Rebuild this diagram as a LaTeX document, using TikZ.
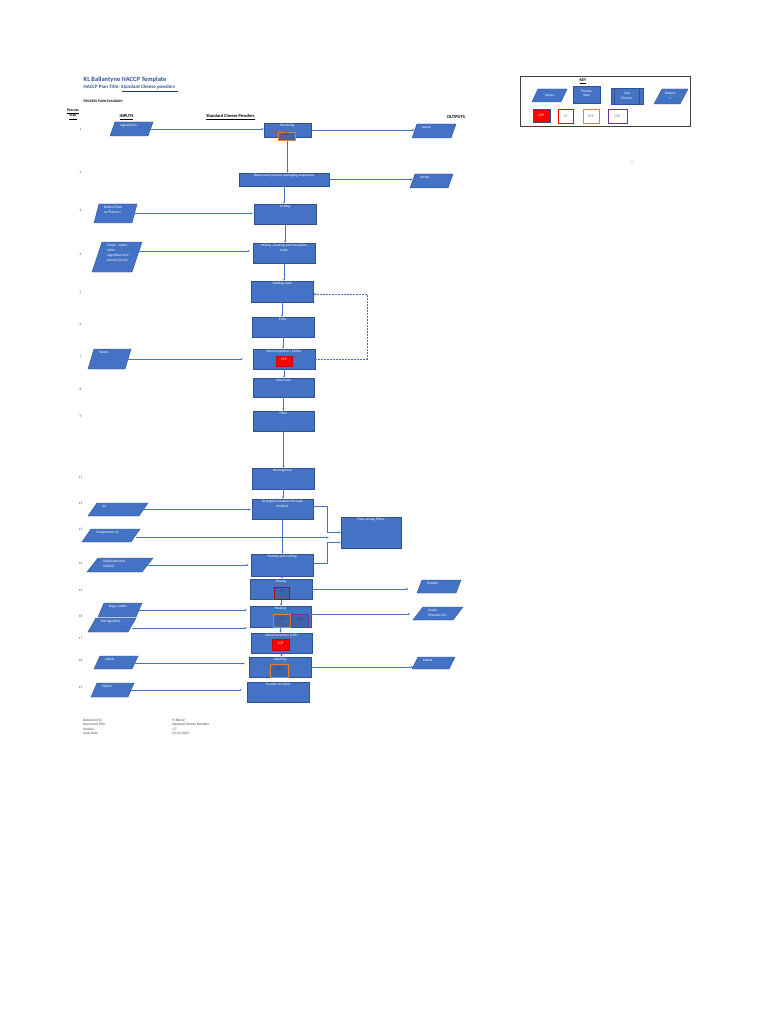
\documentclass[tikz,border=0pt]{standalone}
\usepackage{fontspec}
\setmainfont{Carlito}
\usetikzlibrary{fit,arrows.meta}
\definecolor{pfill}{HTML}{4472C4}
\definecolor{pdraw}{HTML}{2F528F}
\definecolor{lnc}{HTML}{4472C4}
\definecolor{ttl}{HTML}{2F5597}
\definecolor{ttldk}{HTML}{1F3864}
\definecolor{orng}{HTML}{ED7D31}
\definecolor{purp}{HTML}{7030A0}
\definecolor{redc}{HTML}{FF0000}
\definecolor{cpred}{HTML}{C00000}
\definecolor{bdark}{HTML}{3E64AC}
\definecolor{keyd}{HTML}{404040}
\tikzset{
 proc/.style={draw=pdraw, fill=pfill, line width=0.6pt, inner sep=0pt},
 inv/.style={inner sep=0pt},
 pshape/.style={fill=pfill, draw=pdraw, line width=0.45pt},
 wt/.style={text=white, font=\fontsize{3.6}{4.6}\selectfont, inner sep=0pt, align=center},
 wtl/.style={text=white, font=\fontsize{3.6}{5}\selectfont, inner sep=0pt, align=left},
 conn/.style={draw=lnc, line width=0.55pt, -{Stealth[length=2.2pt,width=2.2pt]}},
 dsh/.style={draw=lnc, line width=0.8pt, dash pattern=on 2pt off 1pt, -{Stealth[length=2.2pt,width=2.2pt]}},
 badge/.style={inner sep=0pt, line width=0.6pt, font=\fontsize{3.6}{4}\selectfont},
 stepno/.style={font=\fontsize{3.5}{4}\selectfont, text=black!70, inner sep=0pt},
 hdr/.style={font=\fontsize{4.5}{5}\bfseries, inner sep=0pt},
 foot/.style={font=\fontsize{3.5}{4}\selectfont, text=black!75, inner sep=0pt, anchor=west}
}
\newcommand\pbox[6]{\node[proc, fit={(#2,#3) (#4,#5)}, label={[wt,anchor=north,yshift=-1.3pt]north:{#6}}] (#1) {};}
\newcommand\para[7]{%
 \filldraw[pshape] (#2+#6,#3) -- (#4,#3) -- (#4-#6,#5) -- (#2,#5) -- cycle;
 \node[inv, fit={(#2+#6/2,#3) (#4-#6/2,#5)}] (#1) {};
 \node[wtl, anchor=north west] (#1t) at (#2+#6+5,#3+1.6) {#7};}
\begin{document}
\begin{tikzpicture}[x=1pt,y=-1pt]
\fill[white] (0,0) rectangle (768,1024);
\useasboundingbox (0,0) rectangle (768,1024);

% header
\node[anchor=west, font=\fontsize{6.5}{7}\bfseries, text=ttl, inner sep=0pt] (title) at (83.5,80) {KL Ballantyne HACCP Template};
\node[anchor=west, font=\fontsize{5}{6}\bfseries, text=ttl, inner sep=0pt] (subt) at (83.5,87.5) {HACCP Plan Title: Standard Cheese powders};
\draw[ttldk, line width=0.5pt] (122,91.5) -- (178,91.5);
\node[anchor=west, font=\fontsize{3.6}{4}\bfseries, inner sep=0pt] (pfd) at (83.5,101) {PROCESS FLOW DIAGRAM};
\node[hdr, font=\fontsize{3.8}{5}\bfseries, align=center] (pstep) at (73,114.5) {\underline{Process}\\\underline{Step}};
\node[hdr] (inh) at (126.5,117) {\underline{INPUTS}};
\node[hdr] (sch) at (230.5,117) {\underline{Standard Cheese Powders}};
\node[hdr] (outh) at (456,117) {OUTPUTS};

% step numbers
\foreach \n/\y in {1/129,2/172,3/210,4/254,5/292,6/324,7/356,8/389,9/416,11/477,12/503,13/529,14/563,15/590,16/616,17/638,18/660,19/687}
  \node[stepno] (sn\n) at (80.5,\y) {\n};

% key
\node[draw=keyd, line width=0.7pt, fit={(520,76) (690,126)}, inner sep=0pt] (key) {};
\node[font=\fontsize{4.2}{5}\bfseries, inner sep=0pt] (keyt) at (583,81) {\underline{KEY}};
\para{kin}{532}{89}{567}{102}{6}{}
\node[wt] (kint) at (kin) {Inputs};
\node[proc, fit={(573,86) (600,103)}, label={[wt,anchor=north,yshift=-4pt]north:{Process\\Step}}] (kproc) {};
\node[proc, fit={(611,88) (643,104)}] (ksub) {};
\draw[pdraw, line width=0.6pt] (614.5,88) -- (614.5,104) (639.5,88) -- (639.5,104);
\node[wt] (ksubt) at (627,96) {Sub\\Process};
\para{kout}{654}{89}{688}{104}{8}{}
\node[wt] (koutt) at (670,96) {Output\\s};
\node[badge, fill=redc, draw=pdraw, text=white, minimum width=17pt, minimum height=13pt] (kccp) at (541.5,115.5) {CCP};
\node[badge, fill=white, draw=redc, text=black!55, minimum width=15pt, minimum height=14pt] (kcp) at (565.5,116) {CP};
\node[badge, fill=white, draw=orng, text=black!55, minimum width=16pt, minimum height=14pt] (kpcp) at (591,116) {PCP};
\node[badge, fill=white, draw=purp, text=black!55, minimum width=19pt, minimum height=14pt] (kocp) at (617.5,116) {OCP};
\fill[black!45] (632,162) circle (0.6pt);

% process boxes
\pbox{rec}{264}{123}{311}{137}{Receiving}
\pbox{rem}{239}{173}{329}{186}{Removal of primary packaging inspection}
\pbox{cut}{254}{204}{316}{224}{Cutting}
\pbox{mix}{253}{243}{315}{263}{Mixing , heating and circulation\\tanks}
\pbox{hold}{251}{281}{313}{302}{Holding Tank}
\pbox{filA}{252}{317}{314}{337}{Filter}
\pbox{sinj}{253}{349}{315}{369}{Steam Injection / Chiller}
\pbox{feed}{253}{378}{314}{397}{Feed tank}
\pbox{filB}{253}{411}{314}{431}{Filter}
\pbox{hom}{252}{468}{314}{489}{Homogeniser}
\pbox{dry}{252}{499}{313}{519}{Drying(Atomisation through\\Nozzles)}
\pbox{fines}{341}{517}{401}{548}{Fines to bag Filters}
\pbox{heat}{251}{554}{313}{576}{Heating and Cooling}
\pbox{sieve}{250}{579}{312}{599}{Sieving}
\pbox{pack}{250}{606}{311}{627}{Packing}
\pbox{metal}{251}{633}{312}{653}{Metal Detection (CCP)}
\pbox{lab}{249}{657}{311}{677}{Labelling}
\pbox{pal}{247}{682}{309}{702}{Transfer to Pallet}

% inputs
\para{ing}{110}{122}{153}{136}{5}{Ingredients}
\para{but}{94}{204}{137}{223}{5}{Butter/Chee\\se/Flavours}
\para{stw}{92}{242}{142}{272}{10}{Steam , water\\other\\ingredient and\\emulsi (Curry)}
\para{s7}{88}{349}{131}{369}{6}{Steam}
\para{air}{88}{503}{148}{516}{9}{Air}
\para{cair}{82}{529}{140}{542}{9}{Compressed air}
\para{aheat}{87}{558}{153}{572}{11}{Air(heated and\\chilled)}
\para{bags}{98}{603}{142}{617}{6}{Bags, Labels}
\para{nit}{88}{618}{136}{632}{8}{Nitrogen(N2)}
\para{labin}{94}{656}{138}{669}{6}{Labels}
\para{pall}{91}{683}{134}{697}{6}{Pallets}
% outputs
\para{wa}{412}{124}{456}{138}{5}{waste}
\para{wb}{410}{174}{453}{188}{5}{waste}
\para{powd}{417}{580}{461}{593}{5}{Powder}
\para{wc}{413}{607}{463}{620}{10}{Waste\\(Powder/Air)}
\para{labout}{412}{657}{455}{669}{6}{Labels}

% helper coordinates
\path ([yshift=6pt]stw.east) coordinate (stwo);
\path ([yshift=-2pt]cair.east) coordinate (cairo);
\path ([yshift=-3pt]nit.east) coordinate (nito);
\path ([yshift=2.5pt]pack.east) coordinate (packo);
\path ([yshift=-1pt]labin.east) coordinate (labino);
\coordinate (lp) at (367,294);

% connectors
\draw[conn] (ing.east) -- (ing.east -| rec.west);
\draw[conn] (rec.east) -- (rec.east -| wa.west);
\draw[conn] (rec.south) -- (rec.south |- rem.north);
\draw[conn] (rem.east) -- (rem.east -| wb.west);
\draw[conn] (rem.south) -- (rem.south |- cut.north);
\draw[conn, shorten >=1pt] (but.east) -- (but.east -| cut.west);
\draw[conn] (cut.south) -- (cut.south |- mix.north);
\draw[conn, shorten >=3pt] (stwo) -- (stwo -| mix.west);
\draw[conn] (mix.south) -- (mix.south |- hold.north);
\draw[conn] (hold.south) -- (hold.south |- filA.north);
\draw[conn] (filA.south) -- (filA.south |- sinj.north);
\draw[conn, shorten >=10pt] (s7.east) -- (s7.east -| sinj.west);
\draw[dsh] (sinj.east) -| (lp) -- (lp -| hold.east);
\draw[conn] (sinj.south) -- (sinj.south |- feed.north);
\draw[conn] (feed.south) -- (feed.south |- filB.north);
\draw[conn] (filB.south) -- (filB.south |- hom.north);
\draw[conn] (hom.south) -- (hom.south |- dry.north);
\draw[conn, shorten >=1pt] (air.east) -- (air.east -| dry.west);
\draw[conn] ([yshift=3pt]dry.east) -- ++(14,0) |- (fines.west);
\draw[conn, shorten >=12pt] (cairo) -- (cairo -| fines.west);
\draw[conn] ([yshift=2pt]heat.east) -- ++(14,0) |- ([yshift=-10pt]fines.west);
\draw[conn] (dry.south) -- (dry.south |- heat.north);
\draw[conn, shorten >=2pt] (aheat.east) -- (aheat.east -| heat.west);
\draw[conn] (heat.south) -- (heat.south |- sieve.north);
\draw[conn, shorten >=11pt] (sieve.east) -- (sieve.east -| powd.west);
\draw[conn] (sieve.south) -- (sieve.south |- pack.north);
\draw[conn, shorten >=3pt] (bags.east) -- (bags.east -| pack.west);
\draw[conn, shorten >=3pt] (nito) -- (nito -| pack.west);
\draw[conn, shorten >=8pt] (packo) -- (packo -| wc.west);
\draw[conn] (pack.south) -- (pack.south |- metal.north);
\draw[conn] (metal.south) -- (metal.south |- lab.north);
\draw[conn, shorten >=4pt] (labino) -- (labino -| lab.west);
\draw[conn, shorten >=2pt] (lab.east) -- (lab.east -| labout.west);
\draw[conn, shorten >=5pt] (pall.east) -- (pall.east -| pal.west);

% badges in boxes
\node[badge, fill=bdark, draw=orng, text=black!75, fit={(278,132) (295,140)}] (pcpA) {PCP};
\node[badge, fill=redc, draw=redc!80!black, text=white, fit={(276,356) (292,366)}] (ccpA) {CCP};
\node[badge, fill=bdark, draw=cpred, text=black!75, fit={(274,587) (289,599)}] (cpA) {CP};
\node[badge, fill=bdark, draw=orng, text=black!75, fit={(273,614) (290,627)}] (pcpB) {PCP};
\node[badge, fill=bdark, draw=purp, text=black!75, fit={(291,614) (308,627)}] (ocpA) {OCP};
\node[badge, fill=redc, draw=redc!80!black, text=white, fit={(272,639) (289,650)}] (ccpB) {CCP};
\node[badge, fill=bdark, draw=orng, text=black!75, fit={(270,664) (288,677)}] (pcpC) {PCP};

% footer
\node[foot] (f1) at (83,720) {Document ID};
\node[foot] (f2) at (83,724.5) {Document Title};
\node[foot] (f3) at (83,729) {Version};
\node[foot] (f4) at (83,733.3) {Issue Date};
\node[foot] (g1) at (172,720) {FI-ND-02};
\node[foot] (g2) at (172,724.5) {Standard Cheese Powders};
\node[foot] (g3) at (172,729) {1.7};
\node[foot] (g4) at (172,733.3) {23/11/2021};
\end{tikzpicture}
\end{document}
